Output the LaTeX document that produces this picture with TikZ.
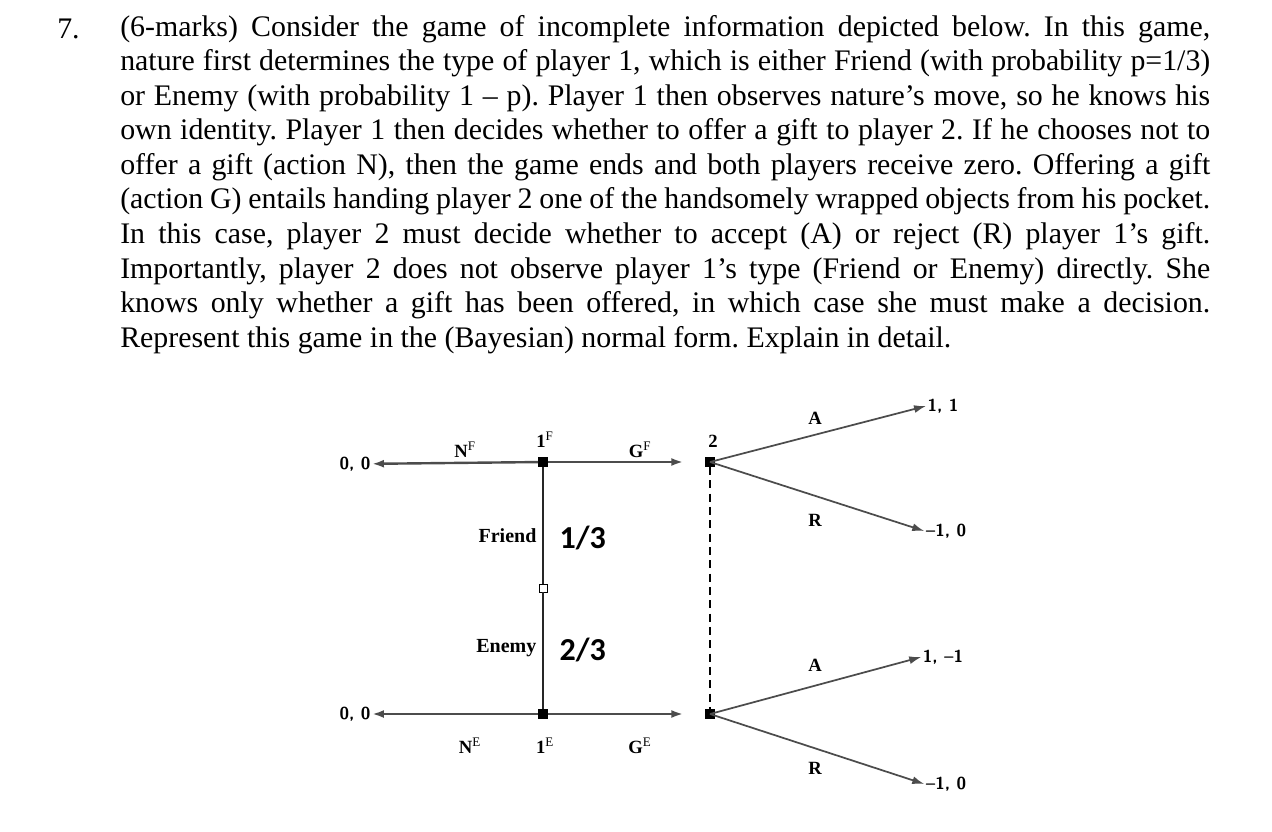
\documentclass[tikz,border=0pt]{standalone}
\usepackage{fontspec}
\setmainfont{Liberation Serif}
\newfontfamily\probfont{Carlito}
\usetikzlibrary{arrows.meta}
\frenchspacing
\begin{document}
\begin{tikzpicture}[x=0.75pt,y=-0.75pt,
  txt/.style={anchor=west,inner sep=0pt,font=\fontsize{22.4}{26}\selectfont},
  lbl/.style={inner sep=1pt,font=\bfseries\fontsize{14}{16}\selectfont},
  pay/.style={inner sep=1pt,font=\sffamily\bfseries\fontsize{13}{15}\selectfont},
  prob/.style={inner sep=1pt,font=\probfont\bfseries\fontsize{24}{28}\selectfont},
  dec/.style={fill=black,minimum size=7pt,inner sep=0pt},
  chance/.style={draw,fill=white,minimum size=6pt,inner sep=0pt},
  edge/.style={line width=1.8pt,draw=black!70},
  arr/.style={edge,-{Latex[length=9pt,width=6pt]}}]
\useasboundingbox (0,0) rectangle (1272,832);
% text
\node[txt] (num) at (57,29) {7.};
\node[txt] (l1) at (120,29) {\makebox[1090\dimexpr0.75pt\relax][s]{(6-marks) Consider the game of incomplete information depicted below. In this game,}};
\node[txt] (l2) at (120,63) {\makebox[1090\dimexpr0.75pt\relax][s]{nature first determines the type of player 1, which is either Friend (with probability p=1/3)}};
\node[txt] (l3) at (120,98) {\makebox[1090\dimexpr0.75pt\relax][s]{or Enemy (with probability 1 -- p). Player 1 then observes nature's move, so he knows his}};
\node[txt] (l4) at (120,132) {\makebox[1090\dimexpr0.75pt\relax][s]{own identity. Player 1 then decides whether to offer a gift to player 2. If he chooses not to}};
\node[txt] (l5) at (120,167) {\makebox[1090\dimexpr0.75pt\relax][s]{offer a gift (action N), then the game ends and both players receive zero. Offering a gift}};
\node[txt] (l6) at (120,201) {\makebox[1090\dimexpr0.75pt\relax][s]{(action G) entails handing player 2 one of the handsomely wrapped objects from his pocket.}};
\node[txt] (l7) at (120,236) {\makebox[1090\dimexpr0.75pt\relax][s]{In this case, player 2 must decide whether to accept (A) or reject (R) player 1's gift.}};
\node[txt] (l8) at (120,271) {\makebox[1090\dimexpr0.75pt\relax][s]{Importantly, player 2 does not observe player 1's type (Friend or Enemy) directly. She}};
\node[txt] (l9) at (120,305) {\makebox[1090\dimexpr0.75pt\relax][s]{knows only whether a gift has been offered, in which case she must make a decision.}};
\node[txt] (l10) at (120,340) {Represent this game in the (Bayesian) normal form. Explain in detail.};
% nodes
\node[dec] (f1) at (543,462) {};
\node[dec] (e1) at (543,714) {};
\node[chance] (c) at (543,588) {};
\node[dec] (f2) at (710,462) {};
\node[dec] (e2) at (710,714) {};
\node[pay] (fn) at (355,464) {0, 0};
\node[pay] (en) at (355,714) {0, 0};
\node[pay] (fa) at (943,406) {1, 1};
\node[pay] (fr) at (946,531) {--1, 0};
\node[pay] (ea) at (943,657) {1, --1};
\node[pay] (er) at (946,784) {--1, 0};
% edges
\draw[edge,draw=black!85] (f1) -- (c);
\draw[edge,draw=black!85] (c) -- (e1);
\draw[arr] (f1) -- (fn);
\draw[arr] (e1) -- (en);
\draw[arr] (f1) -- ([xshift=-20pt]f2.center);
\draw[arr] (e1) -- ([xshift=-20pt]e2.center);
\draw[line width=0.9pt,dash pattern=on 6pt off 4pt] (f2) -- (e2);
\draw[arr,line width=1.3pt] (f2.center) -- (fa.west);
\draw[arr,line width=1.3pt] (f2.center) -- (fr.west);
\draw[arr,line width=1.3pt] (e2.center) -- (ea.west);
\draw[arr,line width=1.3pt] (e2.center) -- (er.west);
% labels
\node[lbl] (lnf) at (465,450) {N$^{\mathrm F}$};
\node[lbl] (l1f) at (545,440) {1$^{\mathrm F}$};
\node[lbl] (lgf) at (640,450) {G$^{\mathrm F}$};
\node[lbl] (l2f) at (713,441) {2};
\node[lbl] (lne) at (470,746) {N$^{\mathrm E}$};
\node[lbl] (l1e) at (545,746) {1$^{\mathrm E}$};
\node[lbl] (lge) at (640,746) {G$^{\mathrm E}$};
\node[lbl] (la1) at (815,418) {A};
\node[lbl] (lr1) at (815,520) {R};
\node[lbl] (la2) at (815,665) {A};
\node[lbl] (lr2) at (815,768) {R};
\node[lbl,font=\bfseries\fontsize{15}{17}\selectfont,anchor=east] (frl) at (538,536) {Friend};
\node[lbl,font=\bfseries\fontsize{15}{17}\selectfont,anchor=east] (enl) at (538,648) {Enemy};
\node[prob,anchor=west] (p1) at (558,538) {1/3};
\node[prob,anchor=west] (p2) at (558,650) {2/3};
\end{tikzpicture}
\end{document}
